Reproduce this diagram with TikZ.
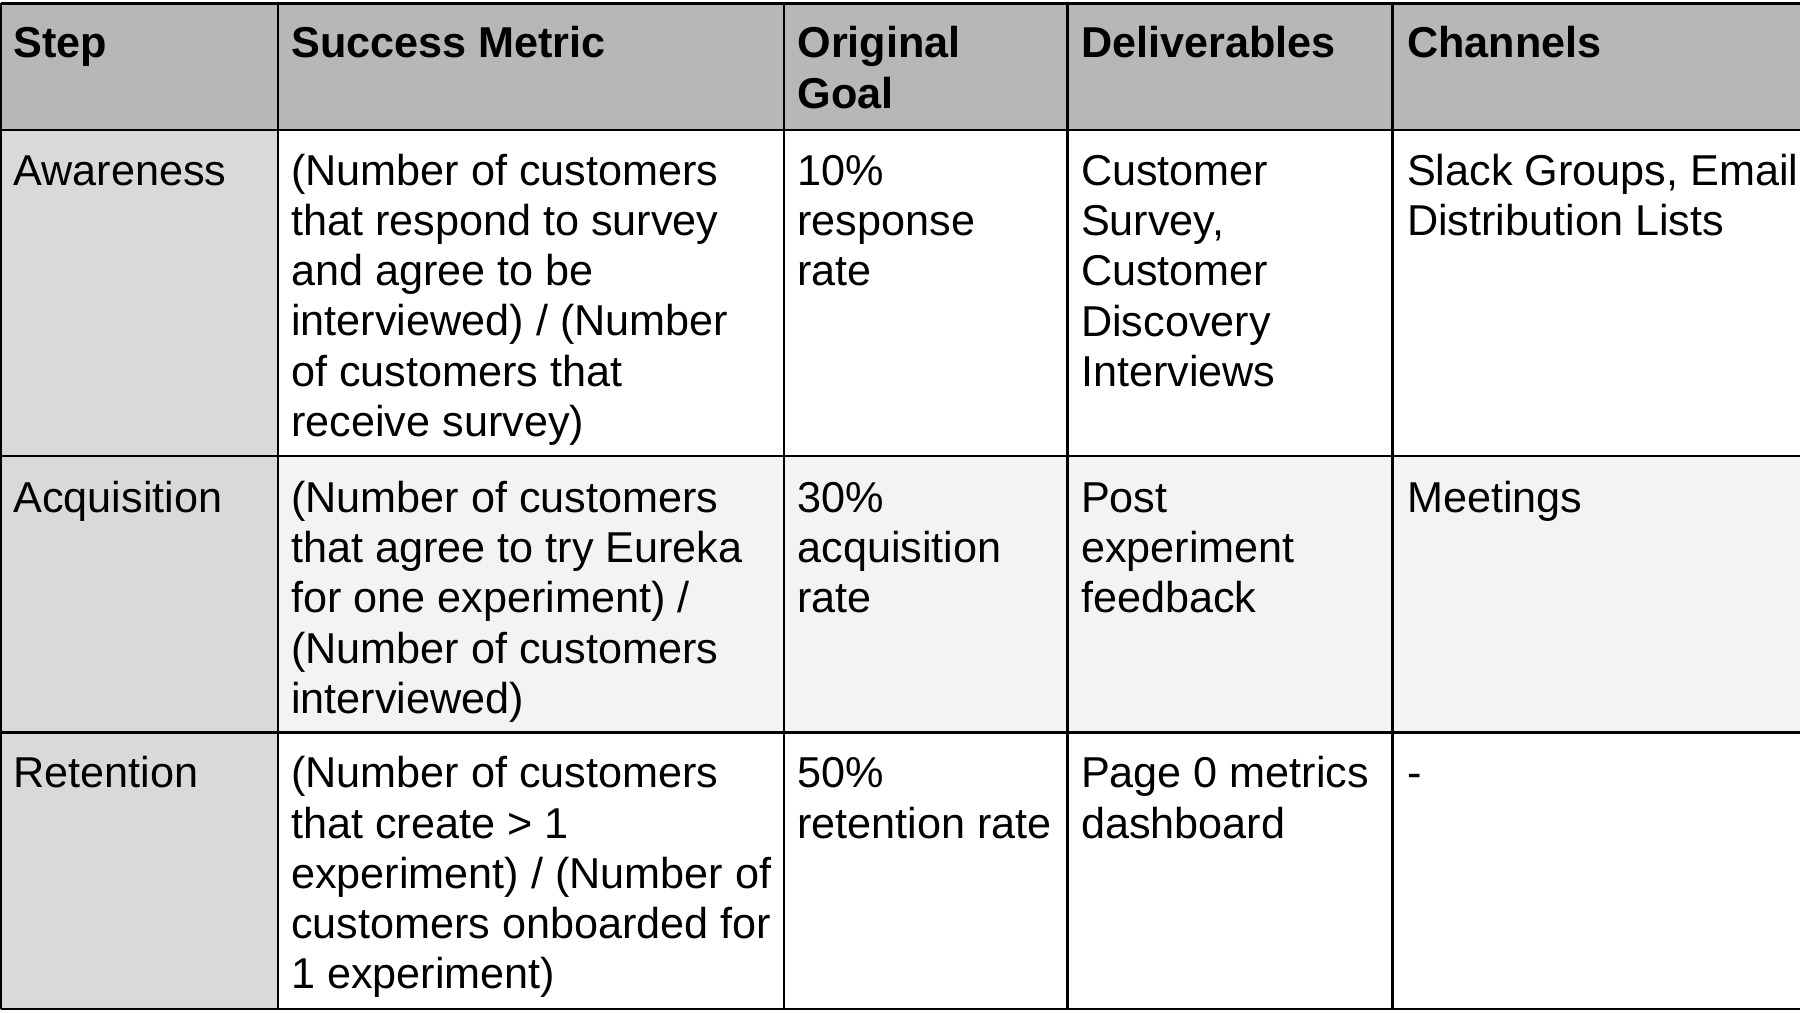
\documentclass[tikz,border=0pt]{standalone}
\usepackage{fontspec}
\setmainfont{Liberation Sans}
\begin{document}
\begin{tikzpicture}[x=0.01cm,y=-0.01cm,
  cell/.style={anchor=north west,inner sep=0pt,align=left,font=\fontsize{10.7}{12.45}\selectfont},
  hcell/.style={cell,font=\fontsize{10.7}{12.45}\selectfont\bfseries},
  grid/.style={line width=0.6pt,draw=black}]
\useasboundingbox (0,0) rectangle (1568,882);
\begin{scope}
\clip (0,0) rectangle (1568,882);
\fill[fill={rgb,255:red,183;green,183;blue,183}] (0,3) rectangle (1600,113);
\fill[fill={rgb,255:red,217;green,217;blue,217}] (0,113) rectangle (242,880);
\fill[fill={rgb,255:red,243;green,243;blue,243}] (242,397) rectangle (1600,638);
\foreach \y in {3,113,397,638,879} \draw[grid] (1,\y) -- (1600,\y);
\foreach \x in {1,242,683,930,1213} \draw[grid] (\x,3) -- (\x,879);
\def\off{33}
\node[hcell] (h1) at (11,52-\off) {\strut Step};
\node[hcell] (h2) at (253,52-\off) {\strut Success Metric};
\node[hcell] (h3) at (694,52-\off) {\strut Original\\Goal};
\node[hcell] (h4) at (941,52-\off) {\strut Deliverables};
\node[hcell] (h5) at (1225,52-\off) {\strut Channels};
\node[cell] (a1) at (11,163-\off) {\strut Awareness};
\node[cell] (a2) at (253,163-\off) {\strut (Number of customers\\that respond to survey\\and agree to be\\interviewed) / (Number\\of customers that\\receive survey)};
\node[cell] (a3) at (694,163-\off) {\strut 10\%\\response\\rate};
\node[cell] (a4) at (941,163-\off) {\strut Customer\\Survey,\\Customer\\Discovery\\Interviews};
\node[cell] (a5) at (1225,163-\off) {\strut Slack Groups, Email\\Distribution Lists};
\node[cell] (b1) at (11,448-\off) {\strut Acquisition};
\node[cell] (b2) at (253,448-\off) {\strut (Number of customers\\that agree to try Eureka\\for one experiment) /\\(Number of customers\\interviewed)};
\node[cell] (b3) at (694,448-\off) {\strut 30\%\\acquisition\\rate};
\node[cell] (b4) at (941,448-\off) {\strut Post\\experiment\\feedback};
\node[cell] (b5) at (1225,448-\off) {\strut Meetings};
\node[cell] (c1) at (11,688-\off) {\strut Retention};
\node[cell] (c2) at (253,688-\off) {\strut (Number of customers\\that create > 1\\experiment) / (Number of\\customers onboarded for\\1 experiment)};
\node[cell] (c3) at (694,688-\off) {\strut 50\%\\retention rate};
\node[cell] (c4) at (941,688-\off) {\strut Page 0 metrics\\dashboard};
\node[cell] (c5) at (1225,688-\off) {\strut -};
\end{scope}
\end{tikzpicture}
\end{document}
